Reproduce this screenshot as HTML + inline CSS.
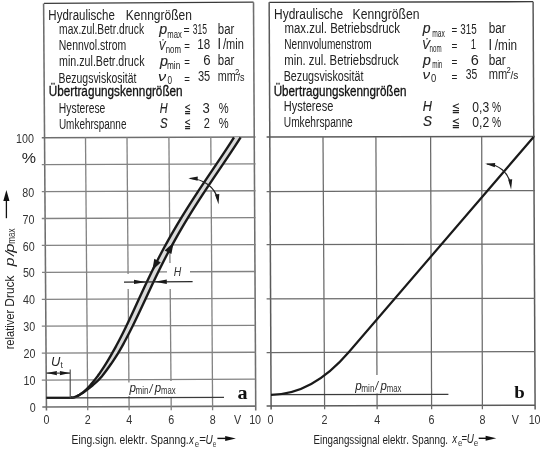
<!DOCTYPE html>
<html><head><meta charset="utf-8"><title>Kennlinie</title>
<style>
html,body{margin:0;padding:0;background:#fff;}
body{width:540px;height:449px;overflow:hidden;}
svg{display:block;}
text{font-kerning:none;}
</style></head><body>
<svg width="540" height="449" viewBox="0 0 540 449">
<rect width="540" height="449" fill="#fff"/>
<line x1="44.00" y1="3.40" x2="253.50" y2="2.20" stroke="#3a3a3a" stroke-width="1.3"/>
<line x1="43.60" y1="3.40" x2="46.45" y2="410.50" stroke="#6e6e6e" stroke-width="1.55"/>
<line x1="253.50" y1="2.20" x2="255.75" y2="410.50" stroke="#6e6e6e" stroke-width="1.55"/>
<line x1="42.30" y1="407.01" x2="255.50" y2="406.10" stroke="#6e6e6e" stroke-width="1.55"/>
<line x1="41.80" y1="380.08" x2="255.50" y2="379.18" stroke="#828282" stroke-width="1.3"/>
<line x1="41.80" y1="353.15" x2="255.50" y2="352.26" stroke="#828282" stroke-width="1.3"/>
<line x1="41.80" y1="326.22" x2="255.50" y2="325.34" stroke="#828282" stroke-width="1.3"/>
<line x1="41.80" y1="299.29" x2="255.50" y2="298.42" stroke="#828282" stroke-width="1.3"/>
<line x1="42.00" y1="272.36" x2="167.00" y2="271.86" stroke="#828282" stroke-width="1.3"/>
<line x1="190.00" y1="271.76" x2="255.50" y2="271.50" stroke="#828282" stroke-width="1.3"/>
<line x1="41.80" y1="245.43" x2="255.50" y2="244.58" stroke="#828282" stroke-width="1.3"/>
<line x1="41.80" y1="218.50" x2="255.50" y2="217.66" stroke="#828282" stroke-width="1.3"/>
<line x1="41.80" y1="191.57" x2="255.50" y2="190.74" stroke="#828282" stroke-width="1.3"/>
<line x1="41.80" y1="164.64" x2="255.50" y2="163.82" stroke="#828282" stroke-width="1.3"/>
<line x1="41.80" y1="137.71" x2="255.50" y2="136.90" stroke="#6e6e6e" stroke-width="1.55"/>
<line x1="85.50" y1="137.30" x2="87.73" y2="410.30" stroke="#828282" stroke-width="1.3"/>
<line x1="127.00" y1="137.30" x2="128.07" y2="274.00" stroke="#828282" stroke-width="1.3"/>
<line x1="128.18" y1="289.00" x2="128.91" y2="382.50" stroke="#828282" stroke-width="1.3"/>
<line x1="129.02" y1="396.00" x2="129.13" y2="410.30" stroke="#828282" stroke-width="1.3"/>
<line x1="168.90" y1="137.30" x2="169.97" y2="263.00" stroke="#828282" stroke-width="1.3"/>
<line x1="170.19" y1="289.00" x2="170.98" y2="381.00" stroke="#828282" stroke-width="1.3"/>
<line x1="171.12" y1="397.00" x2="171.23" y2="410.30" stroke="#828282" stroke-width="1.3"/>
<line x1="210.80" y1="137.30" x2="210.99" y2="165.50" stroke="#828282" stroke-width="1.3"/>
<line x1="211.16" y1="190.50" x2="212.62" y2="410.30" stroke="#828282" stroke-width="1.3"/>
<path d="M234.02,137.30 L233.39,138.30 L232.75,139.30 L232.11,140.30 L231.47,141.30 L230.83,142.30 L230.18,143.30 L229.53,144.30 L228.88,145.30 L228.23,146.30 L227.57,147.30 L226.92,148.30 L226.26,149.30 L225.60,150.30 L224.94,151.30 L224.27,152.30 L223.61,153.30 L222.94,154.30 L222.28,155.30 L221.61,156.30 L220.94,157.30 L220.27,158.30 L219.60,159.30 L218.93,160.30 L218.25,161.30 L217.58,162.30 L216.91,163.30 L216.23,164.30 L215.56,165.30 L214.88,166.30 L214.21,167.30 L213.53,168.30 L212.86,169.30 L212.18,170.30 L211.51,171.30 L210.83,172.30 L210.16,173.30 L209.48,174.30 L208.81,175.30 L208.14,176.30 L207.46,177.30 L206.79,178.30 L206.12,179.30 L205.45,180.30 L204.78,181.30 L204.11,182.30 L203.44,183.30 L202.77,184.30 L202.10,185.30 L201.44,186.30 L200.77,187.30 L200.11,188.30 L199.45,189.30 L198.79,190.30 L198.13,191.30 L197.47,192.30 L196.81,193.30 L196.16,194.30 L195.50,195.30 L194.85,196.30 L194.20,197.30 L193.55,198.30 L192.90,199.30 L192.26,200.30 L191.61,201.30 L190.97,202.30 L190.33,203.30 L189.69,204.30 L189.05,205.30 L188.42,206.30 L187.79,207.30 L187.15,208.30 L186.53,209.30 L185.90,210.30 L185.27,211.30 L184.65,212.30 L184.03,213.30 L183.41,214.30 L182.80,215.30 L182.18,216.30 L181.57,217.30 L180.96,218.30 L180.35,219.30 L179.75,220.30 L179.15,221.30 L178.55,222.30 L177.95,223.30 L177.35,224.30 L176.76,225.30 L176.17,226.30 L175.58,227.30 L175.00,228.30 L174.41,229.30 L173.83,230.30 L173.25,231.30 L172.68,232.30 L172.10,233.30 L171.53,234.30 L170.96,235.30 L170.39,236.30 L169.83,237.30 L169.27,238.30 L168.71,239.30 L168.15,240.30 L167.60,241.30 L167.05,242.30 L166.50,243.30 L165.95,244.30 L165.40,245.30 L164.86,246.30 L164.32,247.30 L163.78,248.30 L163.25,249.30 L162.71,250.30 L162.18,251.30 L161.65,252.30 L161.13,253.30 L160.60,254.30 L160.08,255.30 L159.56,256.30 L159.04,257.30 L158.53,258.30 L158.02,259.30 L157.50,260.30 L156.99,261.30 L156.49,262.30 L155.98,263.30 L155.48,264.30 L154.98,265.30 L154.48,266.30 L153.98,267.30 L153.49,268.30 L152.99,269.30 L152.50,270.30 L152.01,271.30 L151.52,272.30 L151.03,273.30 L150.55,274.30 L150.07,275.30 L149.58,276.30 L149.10,277.30 L148.62,278.30 L148.15,279.30 L147.67,280.30 L147.19,281.30 L146.72,282.30 L146.25,283.30 L145.77,284.30 L145.30,285.30 L144.83,286.30 L144.37,287.30 L143.90,288.30 L143.43,289.30 L142.96,290.30 L142.50,291.30 L142.03,292.30 L141.57,293.30 L141.11,294.30 L140.64,295.30 L140.18,296.30 L139.72,297.30 L139.25,298.30 L138.79,299.30 L138.33,300.30 L137.88,301.30 L137.42,302.30 L136.96,303.30 L136.51,304.30 L136.05,305.30 L135.59,306.30 L135.13,307.30 L134.68,308.30 L134.22,309.30 L133.76,310.30 L133.30,311.30 L132.84,312.30 L132.37,313.30 L131.91,314.30 L131.45,315.30 L130.98,316.30 L130.51,317.30 L130.05,318.30 L129.58,319.30 L129.11,320.30 L128.63,321.30 L128.16,322.30 L127.68,323.30 L127.20,324.30 L126.72,325.30 L126.24,326.30 L125.76,327.30 L125.27,328.30 L124.78,329.30 L124.29,330.30 L123.79,331.30 L123.30,332.30 L122.80,333.30 L122.29,334.30 L121.79,335.30 L121.28,336.30 L120.77,337.30 L120.25,338.30 L119.73,339.30 L119.21,340.30 L118.68,341.30 L118.15,342.30 L117.61,343.30 L117.07,344.30 L116.53,345.30 L115.98,346.30 L115.43,347.30 L114.87,348.30 L114.31,349.30 L113.74,350.30 L113.17,351.30 L112.59,352.30 L112.03,353.30 L111.46,354.30 L110.90,355.30 L110.32,356.30 L109.74,357.30 L109.16,358.30 L108.57,359.30 L107.97,360.30 L107.36,361.30 L106.75,362.30 L106.14,363.30 L105.51,364.30 L104.88,365.30 L104.24,366.30 L103.60,367.30 L102.94,368.30 L102.28,369.30 L101.62,370.30 L100.94,371.30 L100.26,372.30 L99.60,373.30 L98.92,374.30 L97.75,375.93 L97.02,376.90 L96.27,377.89 L95.50,378.90 L94.69,379.93 L93.86,380.97 L93.01,382.03 L92.14,383.08 L91.24,384.14 L90.33,385.19 L89.40,386.23 L88.45,387.25 L87.49,388.25 L86.51,389.23 L85.52,390.18 L84.51,391.10 L83.50,391.98 L82.48,392.81 L81.45,393.60 L80.41,394.34 L79.37,395.01 L78.32,395.63 L77.27,396.18 L76.22,396.65 L75.17,397.05 L74.13,397.37 L73.08,397.61 L72.04,397.75 L71.00,397.80 L71.00,397.80 L71.86,397.75 L72.80,397.59 L73.80,397.33 L74.85,396.97 L75.96,396.53 L77.11,396.01 L78.30,395.41 L79.53,394.75 L80.79,394.02 L82.07,393.23 L83.36,392.38 L84.67,391.50 L85.98,390.57 L87.29,389.60 L88.60,388.61 L89.89,387.60 L91.16,386.56 L92.41,385.52 L93.63,384.47 L94.82,383.43 L95.96,382.39 L97.06,381.36 L98.10,380.35 L99.08,379.36 L100.00,378.40 L100.85,377.48 L101.62,376.61 L102.31,375.78 L103.47,374.30 L104.25,373.30 L105.03,372.30 L105.78,371.30 L106.52,370.30 L107.25,369.30 L107.97,368.30 L108.69,367.30 L109.40,366.30 L110.10,365.30 L110.79,364.30 L111.48,363.30 L112.16,362.30 L112.83,361.30 L113.49,360.30 L114.15,359.30 L114.81,358.30 L115.46,357.30 L116.10,356.30 L116.73,355.30 L117.36,354.30 L117.99,353.30 L118.60,352.30 L119.19,351.30 L119.77,350.30 L120.35,349.30 L120.92,348.30 L121.49,347.30 L122.05,346.30 L122.61,345.30 L123.17,344.30 L123.72,343.30 L124.27,342.30 L124.81,341.30 L125.35,340.30 L125.88,339.30 L126.41,338.30 L126.94,337.30 L127.46,336.30 L127.99,335.30 L128.50,334.30 L129.02,333.30 L129.53,332.30 L130.04,331.30 L130.54,330.30 L131.05,329.30 L131.55,328.30 L132.05,327.30 L132.54,326.30 L133.04,325.30 L133.53,324.30 L134.02,323.30 L134.51,322.30 L134.99,321.30 L135.48,320.30 L135.96,319.30 L136.44,318.30 L136.92,317.30 L137.40,316.30 L137.87,315.30 L138.35,314.30 L138.82,313.30 L139.30,312.30 L139.77,311.30 L140.24,310.30 L140.71,309.30 L141.18,308.30 L141.65,307.30 L142.12,306.30 L142.59,305.30 L143.06,304.30 L143.52,303.30 L143.99,302.30 L144.46,301.30 L144.93,300.30 L145.39,299.30 L145.85,298.30 L146.32,297.30 L146.78,296.30 L147.24,295.30 L147.71,294.30 L148.17,293.30 L148.63,292.30 L149.10,291.30 L149.56,290.30 L150.03,289.30 L150.50,288.30 L150.97,287.30 L151.43,286.30 L151.90,285.30 L152.37,284.30 L152.85,283.30 L153.32,282.30 L153.79,281.30 L154.27,280.30 L154.75,279.30 L155.22,278.30 L155.70,277.30 L156.18,276.30 L156.67,275.30 L157.15,274.30 L157.63,273.30 L158.12,272.30 L158.61,271.30 L159.10,270.30 L159.59,269.30 L160.09,268.30 L160.58,267.30 L161.08,266.30 L161.58,265.30 L162.08,264.30 L162.58,263.30 L163.09,262.30 L163.59,261.30 L164.10,260.30 L164.62,259.30 L165.13,258.30 L165.64,257.30 L166.16,256.30 L166.68,255.30 L167.20,254.30 L167.73,253.30 L168.25,252.30 L168.78,251.30 L169.31,250.30 L169.85,249.30 L170.38,248.30 L170.92,247.30 L171.46,246.30 L172.00,245.30 L172.55,244.30 L173.10,243.30 L173.65,242.30 L174.20,241.30 L174.75,240.30 L175.31,239.30 L175.87,238.30 L176.43,237.30 L176.99,236.30 L177.56,235.30 L178.13,234.30 L178.70,233.30 L179.28,232.30 L179.85,231.30 L180.43,230.30 L181.01,229.30 L181.60,228.30 L182.18,227.30 L182.77,226.30 L183.36,225.30 L183.95,224.30 L184.55,223.30 L185.15,222.30 L185.75,221.30 L186.35,220.30 L186.95,219.30 L187.56,218.30 L188.17,217.30 L188.78,216.30 L189.40,215.30 L190.01,214.30 L190.63,213.30 L191.25,212.30 L191.87,211.30 L192.50,210.30 L193.13,209.30 L193.75,208.30 L194.39,207.30 L195.02,206.30 L195.65,205.30 L196.29,204.30 L196.93,203.30 L197.57,202.30 L198.21,201.30 L198.86,200.30 L199.50,199.30 L200.15,198.30 L200.80,197.30 L201.45,196.30 L202.10,195.30 L202.76,194.30 L203.41,193.30 L204.07,192.30 L204.73,191.30 L205.39,190.30 L206.05,189.30 L206.71,188.30 L207.37,187.30 L208.04,186.30 L208.70,185.30 L209.37,184.30 L210.04,183.30 L210.71,182.30 L211.38,181.30 L212.05,180.30 L212.72,179.30 L213.39,178.30 L214.06,177.30 L214.74,176.30 L215.41,175.30 L216.08,174.30 L216.76,173.30 L217.43,172.30 L218.11,171.30 L218.78,170.30 L219.46,169.30 L220.13,168.30 L220.81,167.30 L221.48,166.30 L222.16,165.30 L222.83,164.30 L223.51,163.30 L224.18,162.30 L224.85,161.30 L225.53,160.30 L226.20,159.30 L226.87,158.30 L227.54,157.30 L228.21,156.30 L228.88,155.30 L229.54,154.30 L230.21,153.30 L230.87,152.30 L231.54,151.30 L232.20,150.30 L232.86,149.30 L233.52,148.30 L234.17,147.30 L234.83,146.30 L235.48,145.30 L236.13,144.30 L236.78,143.30 L237.43,142.30 L238.07,141.30 L238.71,140.30 L239.35,139.30 L239.99,138.30 L240.62,137.30 Z" fill="#dadada" stroke="none" stroke-width="1.0"/>
<path d="M234.02,137.30 L233.39,138.30 L232.75,139.30 L232.11,140.30 L231.47,141.30 L230.83,142.30 L230.18,143.30 L229.53,144.30 L228.88,145.30 L228.23,146.30 L227.57,147.30 L226.92,148.30 L226.26,149.30 L225.60,150.30 L224.94,151.30 L224.27,152.30 L223.61,153.30 L222.94,154.30 L222.28,155.30 L221.61,156.30 L220.94,157.30 L220.27,158.30 L219.60,159.30 L218.93,160.30 L218.25,161.30 L217.58,162.30 L216.91,163.30 L216.23,164.30 L215.56,165.30 L214.88,166.30 L214.21,167.30 L213.53,168.30 L212.86,169.30 L212.18,170.30 L211.51,171.30 L210.83,172.30 L210.16,173.30 L209.48,174.30 L208.81,175.30 L208.14,176.30 L207.46,177.30 L206.79,178.30 L206.12,179.30 L205.45,180.30 L204.78,181.30 L204.11,182.30 L203.44,183.30 L202.77,184.30 L202.10,185.30 L201.44,186.30 L200.77,187.30 L200.11,188.30 L199.45,189.30 L198.79,190.30 L198.13,191.30 L197.47,192.30 L196.81,193.30 L196.16,194.30 L195.50,195.30 L194.85,196.30 L194.20,197.30 L193.55,198.30 L192.90,199.30 L192.26,200.30 L191.61,201.30 L190.97,202.30 L190.33,203.30 L189.69,204.30 L189.05,205.30 L188.42,206.30 L187.79,207.30 L187.15,208.30 L186.53,209.30 L185.90,210.30 L185.27,211.30 L184.65,212.30 L184.03,213.30 L183.41,214.30 L182.80,215.30 L182.18,216.30 L181.57,217.30 L180.96,218.30 L180.35,219.30 L179.75,220.30 L179.15,221.30 L178.55,222.30 L177.95,223.30 L177.35,224.30 L176.76,225.30 L176.17,226.30 L175.58,227.30 L175.00,228.30 L174.41,229.30 L173.83,230.30 L173.25,231.30 L172.68,232.30 L172.10,233.30 L171.53,234.30 L170.96,235.30 L170.39,236.30 L169.83,237.30 L169.27,238.30 L168.71,239.30 L168.15,240.30 L167.60,241.30 L167.05,242.30 L166.50,243.30 L165.95,244.30 L165.40,245.30 L164.86,246.30 L164.32,247.30 L163.78,248.30 L163.25,249.30 L162.71,250.30 L162.18,251.30 L161.65,252.30 L161.13,253.30 L160.60,254.30 L160.08,255.30 L159.56,256.30 L159.04,257.30 L158.53,258.30 L158.02,259.30 L157.50,260.30 L156.99,261.30 L156.49,262.30 L155.98,263.30 L155.48,264.30 L154.98,265.30 L154.48,266.30 L153.98,267.30 L153.49,268.30 L152.99,269.30 L152.50,270.30 L152.01,271.30 L151.52,272.30 L151.03,273.30 L150.55,274.30 L150.07,275.30 L149.58,276.30 L149.10,277.30 L148.62,278.30 L148.15,279.30 L147.67,280.30 L147.19,281.30 L146.72,282.30 L146.25,283.30 L145.77,284.30 L145.30,285.30 L144.83,286.30 L144.37,287.30 L143.90,288.30 L143.43,289.30 L142.96,290.30 L142.50,291.30 L142.03,292.30 L141.57,293.30 L141.11,294.30 L140.64,295.30 L140.18,296.30 L139.72,297.30 L139.25,298.30 L138.79,299.30 L138.33,300.30 L137.88,301.30 L137.42,302.30 L136.96,303.30 L136.51,304.30 L136.05,305.30 L135.59,306.30 L135.13,307.30 L134.68,308.30 L134.22,309.30 L133.76,310.30 L133.30,311.30 L132.84,312.30 L132.37,313.30 L131.91,314.30 L131.45,315.30 L130.98,316.30 L130.51,317.30 L130.05,318.30 L129.58,319.30 L129.11,320.30 L128.63,321.30 L128.16,322.30 L127.68,323.30 L127.20,324.30 L126.72,325.30 L126.24,326.30 L125.76,327.30 L125.27,328.30 L124.78,329.30 L124.29,330.30 L123.79,331.30 L123.30,332.30 L122.80,333.30 L122.29,334.30 L121.79,335.30 L121.28,336.30 L120.77,337.30 L120.25,338.30 L119.73,339.30 L119.21,340.30 L118.68,341.30 L118.15,342.30 L117.61,343.30 L117.07,344.30 L116.53,345.30 L115.98,346.30 L115.43,347.30 L114.87,348.30 L114.31,349.30 L113.74,350.30 L113.17,351.30 L112.59,352.30 L112.03,353.30 L111.46,354.30 L110.90,355.30 L110.32,356.30 L109.74,357.30 L109.16,358.30 L108.57,359.30 L107.97,360.30 L107.36,361.30 L106.75,362.30 L106.14,363.30 L105.51,364.30 L104.88,365.30 L104.24,366.30 L103.60,367.30 L102.94,368.30 L102.28,369.30 L101.62,370.30 L100.94,371.30 L100.26,372.30 L99.60,373.30 L98.92,374.30 L97.75,375.93 L97.02,376.90 L96.27,377.89 L95.50,378.90 L94.69,379.93 L93.86,380.97 L93.01,382.03 L92.14,383.08 L91.24,384.14 L90.33,385.19 L89.40,386.23 L88.45,387.25 L87.49,388.25 L86.51,389.23 L85.52,390.18 L84.51,391.10 L83.50,391.98 L82.48,392.81 L81.45,393.60 L80.41,394.34 L79.37,395.01 L78.32,395.63 L77.27,396.18 L76.22,396.65 L75.17,397.05 L74.13,397.37 L73.08,397.61 L72.04,397.75 L71.00,397.80" fill="none" stroke="#1a1a1a" stroke-width="2.4" stroke-linejoin="round"/>
<path d="M240.62,137.30 L239.99,138.30 L239.35,139.30 L238.71,140.30 L238.07,141.30 L237.43,142.30 L236.78,143.30 L236.13,144.30 L235.48,145.30 L234.83,146.30 L234.17,147.30 L233.52,148.30 L232.86,149.30 L232.20,150.30 L231.54,151.30 L230.87,152.30 L230.21,153.30 L229.54,154.30 L228.88,155.30 L228.21,156.30 L227.54,157.30 L226.87,158.30 L226.20,159.30 L225.53,160.30 L224.85,161.30 L224.18,162.30 L223.51,163.30 L222.83,164.30 L222.16,165.30 L221.48,166.30 L220.81,167.30 L220.13,168.30 L219.46,169.30 L218.78,170.30 L218.11,171.30 L217.43,172.30 L216.76,173.30 L216.08,174.30 L215.41,175.30 L214.74,176.30 L214.06,177.30 L213.39,178.30 L212.72,179.30 L212.05,180.30 L211.38,181.30 L210.71,182.30 L210.04,183.30 L209.37,184.30 L208.70,185.30 L208.04,186.30 L207.37,187.30 L206.71,188.30 L206.05,189.30 L205.39,190.30 L204.73,191.30 L204.07,192.30 L203.41,193.30 L202.76,194.30 L202.10,195.30 L201.45,196.30 L200.80,197.30 L200.15,198.30 L199.50,199.30 L198.86,200.30 L198.21,201.30 L197.57,202.30 L196.93,203.30 L196.29,204.30 L195.65,205.30 L195.02,206.30 L194.39,207.30 L193.75,208.30 L193.13,209.30 L192.50,210.30 L191.87,211.30 L191.25,212.30 L190.63,213.30 L190.01,214.30 L189.40,215.30 L188.78,216.30 L188.17,217.30 L187.56,218.30 L186.95,219.30 L186.35,220.30 L185.75,221.30 L185.15,222.30 L184.55,223.30 L183.95,224.30 L183.36,225.30 L182.77,226.30 L182.18,227.30 L181.60,228.30 L181.01,229.30 L180.43,230.30 L179.85,231.30 L179.28,232.30 L178.70,233.30 L178.13,234.30 L177.56,235.30 L176.99,236.30 L176.43,237.30 L175.87,238.30 L175.31,239.30 L174.75,240.30 L174.20,241.30 L173.65,242.30 L173.10,243.30 L172.55,244.30 L172.00,245.30 L171.46,246.30 L170.92,247.30 L170.38,248.30 L169.85,249.30 L169.31,250.30 L168.78,251.30 L168.25,252.30 L167.73,253.30 L167.20,254.30 L166.68,255.30 L166.16,256.30 L165.64,257.30 L165.13,258.30 L164.62,259.30 L164.10,260.30 L163.59,261.30 L163.09,262.30 L162.58,263.30 L162.08,264.30 L161.58,265.30 L161.08,266.30 L160.58,267.30 L160.09,268.30 L159.59,269.30 L159.10,270.30 L158.61,271.30 L158.12,272.30 L157.63,273.30 L157.15,274.30 L156.67,275.30 L156.18,276.30 L155.70,277.30 L155.22,278.30 L154.75,279.30 L154.27,280.30 L153.79,281.30 L153.32,282.30 L152.85,283.30 L152.37,284.30 L151.90,285.30 L151.43,286.30 L150.97,287.30 L150.50,288.30 L150.03,289.30 L149.56,290.30 L149.10,291.30 L148.63,292.30 L148.17,293.30 L147.71,294.30 L147.24,295.30 L146.78,296.30 L146.32,297.30 L145.85,298.30 L145.39,299.30 L144.93,300.30 L144.46,301.30 L143.99,302.30 L143.52,303.30 L143.06,304.30 L142.59,305.30 L142.12,306.30 L141.65,307.30 L141.18,308.30 L140.71,309.30 L140.24,310.30 L139.77,311.30 L139.30,312.30 L138.82,313.30 L138.35,314.30 L137.87,315.30 L137.40,316.30 L136.92,317.30 L136.44,318.30 L135.96,319.30 L135.48,320.30 L134.99,321.30 L134.51,322.30 L134.02,323.30 L133.53,324.30 L133.04,325.30 L132.54,326.30 L132.05,327.30 L131.55,328.30 L131.05,329.30 L130.54,330.30 L130.04,331.30 L129.53,332.30 L129.02,333.30 L128.50,334.30 L127.99,335.30 L127.46,336.30 L126.94,337.30 L126.41,338.30 L125.88,339.30 L125.35,340.30 L124.81,341.30 L124.27,342.30 L123.72,343.30 L123.17,344.30 L122.61,345.30 L122.05,346.30 L121.49,347.30 L120.92,348.30 L120.35,349.30 L119.77,350.30 L119.19,351.30 L118.60,352.30 L117.99,353.30 L117.36,354.30 L116.73,355.30 L116.10,356.30 L115.46,357.30 L114.81,358.30 L114.15,359.30 L113.49,360.30 L112.83,361.30 L112.16,362.30 L111.48,363.30 L110.79,364.30 L110.10,365.30 L109.40,366.30 L108.69,367.30 L107.97,368.30 L107.25,369.30 L106.52,370.30 L105.78,371.30 L105.03,372.30 L104.25,373.30 L103.47,374.30 L102.31,375.78 L101.62,376.61 L100.85,377.48 L100.00,378.40 L99.08,379.36 L98.10,380.35 L97.06,381.36 L95.96,382.39 L94.82,383.43 L93.63,384.47 L92.41,385.52 L91.16,386.56 L89.89,387.60 L88.60,388.61 L87.29,389.60 L85.98,390.57 L84.67,391.50 L83.36,392.38 L82.07,393.23 L80.79,394.02 L79.53,394.75 L78.30,395.41 L77.11,396.01 L75.96,396.53 L74.85,396.97 L73.80,397.33 L72.80,397.59 L71.86,397.75 L71.00,397.80" fill="none" stroke="#1a1a1a" stroke-width="2.4" stroke-linejoin="round"/>
<line x1="46.30" y1="397.80" x2="72.00" y2="397.80" stroke="#1a1a1a" stroke-width="2.3"/>
<line x1="70.00" y1="397.80" x2="224.00" y2="397.40" stroke="#3a3a3a" stroke-width="1.2"/>
<line x1="70.20" y1="369.50" x2="70.20" y2="397.80" stroke="#444" stroke-width="1.1"/>
<line x1="46.50" y1="373.10" x2="70.00" y2="373.10" stroke="#222" stroke-width="1.1"/>
<path d="M46.5,373.1 L57.0,371.0 Q56.2,373.1 57.0,375.2 Z" fill="#1a1a1a" stroke="none" stroke-width="1.0"/>
<path d="M70,373.1 L59.8,371.0 Q60.6,373.1 59.8,375.2 Z" fill="#1a1a1a" stroke="none" stroke-width="1.0"/>
<line x1="124.00" y1="282.00" x2="192.60" y2="281.60" stroke="#2a2a2a" stroke-width="1.25"/>
<path d="M147.2,281.9 Q140,281.2 134,279.7 L134,284.1 Q140,282.6 147.2,281.9 Z" fill="#1a1a1a" stroke="none" stroke-width="1.0"/>
<path d="M153.8,281.8 Q160,281.1 166.8,279.6 L166.8,284.0 Q160,282.5 153.8,281.8 Z" fill="#1a1a1a" stroke="none" stroke-width="1.0"/>
<path d="M173.7,242.6 L164.6,250.6 L171.4,254.0 Z" fill="#1a1a1a" stroke="none" stroke-width="1.0"/>
<path d="M152.3,270.2 L154.3,258.8 L160.8,262.6 Z" fill="#1a1a1a" stroke="none" stroke-width="1.0"/>
<path d="M190,178.5 A 29 25.4 0 0 1 217.6,199" fill="none" stroke="#222" stroke-width="1.2"/>
<path d="M188.3,178.2 L197.8,176.6 L197.6,180.8 Z" fill="#1a1a1a" stroke="none" stroke-width="1.0"/>
<path d="M218.5,204.3 L214.9,194.6 L219.3,194.0 Z" fill="#1a1a1a" stroke="none" stroke-width="1.0"/>
<line x1="269.20" y1="2.30" x2="533.10" y2="1.70" stroke="#3a3a3a" stroke-width="1.3"/>
<line x1="269.15" y1="2.30" x2="271.12" y2="409.50" stroke="#5a5a5a" stroke-width="1.5"/>
<line x1="533.10" y1="1.70" x2="535.12" y2="409.50" stroke="#5a5a5a" stroke-width="1.5"/>
<line x1="266.60" y1="405.91" x2="535.00" y2="405.30" stroke="#5a5a5a" stroke-width="1.5"/>
<line x1="266.60" y1="352.51" x2="535.00" y2="351.60" stroke="#6a6a6a" stroke-width="1.25"/>
<line x1="266.60" y1="298.91" x2="535.00" y2="298.40" stroke="#6a6a6a" stroke-width="1.25"/>
<line x1="266.60" y1="244.71" x2="535.00" y2="244.10" stroke="#6a6a6a" stroke-width="1.25"/>
<line x1="266.60" y1="191.51" x2="535.00" y2="190.60" stroke="#6a6a6a" stroke-width="1.25"/>
<line x1="266.60" y1="136.91" x2="535.00" y2="136.40" stroke="#5a5a5a" stroke-width="1.5"/>
<line x1="323.00" y1="137.00" x2="324.62" y2="409.30" stroke="#6a6a6a" stroke-width="1.25"/>
<line x1="375.90" y1="137.00" x2="376.96" y2="375.00" stroke="#6a6a6a" stroke-width="1.25"/>
<line x1="377.05" y1="393.50" x2="377.12" y2="409.30" stroke="#6a6a6a" stroke-width="1.25"/>
<line x1="430.60" y1="137.00" x2="431.61" y2="409.30" stroke="#6a6a6a" stroke-width="1.25"/>
<line x1="481.70" y1="137.00" x2="482.41" y2="409.30" stroke="#6a6a6a" stroke-width="1.25"/>
<line x1="271.00" y1="394.60" x2="448.40" y2="394.30" stroke="#3a3a3a" stroke-width="1.2"/>
<path d="M271,394.8 C304.70,394.8 330.65,373.32 348.7,352.3 L533.6,137.0" fill="none" stroke="#1a1a1a" stroke-width="2.2"/>
<path d="M487,164 A 24.5 25 0 0 1 510.6,184" fill="none" stroke="#222" stroke-width="1.2"/>
<path d="M485.2,163.8 L495.2,163.0 L494.8,167.2 Z" fill="#1a1a1a" stroke="none" stroke-width="1.0"/>
<path d="M511.1,189.4 L508.1,179.6 L512.2,179.2 Z" fill="#1a1a1a" stroke="none" stroke-width="1.0"/>
<text x="48.36" y="19.70" font-family="Liberation Sans" font-size="13.8" textLength="66.45" lengthAdjust="spacingAndGlyphs" fill="#222">Hydraulische</text>
<text x="125.82" y="19.70" font-family="Liberation Sans" font-size="13.8" textLength="66.06" lengthAdjust="spacingAndGlyphs" fill="#222">Kenngrößen</text>
<text x="59.12" y="34.30" font-family="Liberation Sans" font-size="13.8" textLength="84.97" lengthAdjust="spacingAndGlyphs" fill="#222">max.zul.Betr.druck</text>
<text x="58.84" y="50.30" font-family="Liberation Sans" font-size="13.8" textLength="67.35" lengthAdjust="spacingAndGlyphs" fill="#222">Nennvol.strom</text>
<text x="59.09" y="66.30" font-family="Liberation Sans" font-size="13.8" textLength="85.39" lengthAdjust="spacingAndGlyphs" fill="#222">min.zul.Betr.druck</text>
<text x="58.54" y="82.50" font-family="Liberation Sans" font-size="13.8" textLength="77.83" lengthAdjust="spacingAndGlyphs" fill="#222">Bezugsviskosität</text>
<text x="48.69" y="96.30" font-family="Liberation Sans" font-size="13.8" textLength="133.97" lengthAdjust="spacingAndGlyphs" fill="#111" stroke="#111" stroke-width="0.3">Übertragungskenngrößen</text>
<text x="58.85" y="113.30" font-family="Liberation Sans" font-size="13.8" textLength="46.51" lengthAdjust="spacingAndGlyphs" fill="#222">Hysterese</text>
<text x="58.93" y="128.70" font-family="Liberation Sans" font-size="13.8" textLength="67.51" lengthAdjust="spacingAndGlyphs" fill="#222">Umkehrspanne</text>
<text x="159.25" y="34.00" font-family="Liberation Sans" font-size="14.2" font-style="italic" textLength="7.90" lengthAdjust="spacingAndGlyphs" fill="#222" stroke="#222" stroke-width="0.15">p</text>
<text x="167.29" y="37.60" font-family="Liberation Sans" font-size="10.2" textLength="14.49" lengthAdjust="spacingAndGlyphs" fill="#222">max</text>
<text x="183.59" y="34.10" font-family="Liberation Sans" font-size="12.7" textLength="6.13" lengthAdjust="spacingAndGlyphs" fill="#222">=</text>
<text x="192.67" y="33.60" font-family="Liberation Sans" font-size="14.7" textLength="14.29" lengthAdjust="spacingAndGlyphs" fill="#222">315</text>
<text x="217.86" y="33.60" font-family="Liberation Sans" font-size="13.8" textLength="16.53" lengthAdjust="spacingAndGlyphs" fill="#222">bar</text>
<text x="158.73" y="49.60" font-family="Liberation Sans" font-size="13.6" font-style="italic" textLength="6.69" lengthAdjust="spacingAndGlyphs" fill="#222" stroke="#222" stroke-width="0.15">V̇</text>
<text x="165.68" y="52.60" font-family="Liberation Sans" font-size="10.2" textLength="15.24" lengthAdjust="spacingAndGlyphs" fill="#222">nom</text>
<text x="184.33" y="50.30" font-family="Liberation Sans" font-size="12.7" textLength="5.65" lengthAdjust="spacingAndGlyphs" fill="#222">=</text>
<text x="197.22" y="48.80" font-family="Liberation Sans" font-size="14.7" textLength="12.89" lengthAdjust="spacingAndGlyphs" fill="#222">18</text>
<text x="217.87" y="49.30" font-family="Liberation Sans" font-size="13.8" textLength="3.07" lengthAdjust="spacingAndGlyphs" fill="#222">l</text>
<text x="223.10" y="49.30" font-family="Liberation Sans" font-size="13.8" textLength="3.30" lengthAdjust="spacingAndGlyphs" fill="#222">/</text>
<text x="226.07" y="49.30" font-family="Liberation Sans" font-size="13.8" textLength="17.75" lengthAdjust="spacingAndGlyphs" fill="#222">min</text>
<text x="159.95" y="65.60" font-family="Liberation Sans" font-size="14.2" font-style="italic" textLength="7.90" lengthAdjust="spacingAndGlyphs" fill="#222" stroke="#222" stroke-width="0.15">p</text>
<text x="166.95" y="68.60" font-family="Liberation Sans" font-size="10.2" textLength="13.28" lengthAdjust="spacingAndGlyphs" fill="#222">min</text>
<text x="184.33" y="66.00" font-family="Liberation Sans" font-size="12.7" textLength="5.65" lengthAdjust="spacingAndGlyphs" fill="#222">=</text>
<text x="203.33" y="64.70" font-family="Liberation Sans" font-size="14.7" textLength="7.35" lengthAdjust="spacingAndGlyphs" fill="#222">6</text>
<text x="217.86" y="64.70" font-family="Liberation Sans" font-size="13.8" textLength="16.53" lengthAdjust="spacingAndGlyphs" fill="#222">bar</text>
<text x="158.11" y="81.30" font-family="Liberation Sans" font-size="13.7" font-style="italic" textLength="8.20" lengthAdjust="spacingAndGlyphs" fill="#222">ν</text>
<text x="167.58" y="84.00" font-family="Liberation Sans" font-size="10.2" textLength="4.54" lengthAdjust="spacingAndGlyphs" fill="#222">0</text>
<text x="184.33" y="82.90" font-family="Liberation Sans" font-size="12.7" textLength="5.65" lengthAdjust="spacingAndGlyphs" fill="#222">=</text>
<text x="197.98" y="81.30" font-family="Liberation Sans" font-size="14.7" textLength="12.28" lengthAdjust="spacingAndGlyphs" fill="#222">35</text>
<text x="217.68" y="81.30" font-family="Liberation Sans" font-size="13.8" textLength="18.03" lengthAdjust="spacingAndGlyphs" fill="#222">mm</text>
<text x="235.00" y="74.50" font-family="Liberation Sans" font-size="9.0" textLength="4.39" lengthAdjust="spacingAndGlyphs" fill="#222">2</text>
<text x="237.50" y="81.30" font-family="Liberation Sans" font-size="10.5" textLength="7.03" lengthAdjust="spacingAndGlyphs" fill="#222">/s</text>
<text x="159.67" y="112.50" font-family="Liberation Sans" font-size="14.4" font-style="italic" textLength="7.82" lengthAdjust="spacingAndGlyphs" fill="#222" stroke="#222" stroke-width="0.15">H</text>
<text x="184.15" y="113.00" font-family="DejaVu Sans" font-size="13.8" textLength="6.69" lengthAdjust="spacingAndGlyphs" fill="#222">≦</text>
<text x="202.50" y="112.50" font-family="Liberation Sans" font-size="14.7" textLength="7.27" lengthAdjust="spacingAndGlyphs" fill="#222">3</text>
<text x="218.80" y="112.50" font-family="Liberation Sans" font-size="13.8" textLength="9.89" lengthAdjust="spacingAndGlyphs" fill="#222">%</text>
<text x="159.98" y="127.50" font-family="Liberation Sans" font-size="14.4" font-style="italic" textLength="7.65" lengthAdjust="spacingAndGlyphs" fill="#222" stroke="#222" stroke-width="0.15">S</text>
<text x="184.15" y="128.00" font-family="DejaVu Sans" font-size="13.8" textLength="6.69" lengthAdjust="spacingAndGlyphs" fill="#222">≦</text>
<text x="203.65" y="127.50" font-family="Liberation Sans" font-size="14.7" textLength="6.10" lengthAdjust="spacingAndGlyphs" fill="#222">2</text>
<text x="218.80" y="127.50" font-family="Liberation Sans" font-size="13.8" textLength="9.89" lengthAdjust="spacingAndGlyphs" fill="#222">%</text>
<text x="274.12" y="18.80" font-family="Liberation Sans" font-size="13.8" textLength="69.01" lengthAdjust="spacingAndGlyphs" fill="#222">Hydraulische</text>
<text x="352.60" y="18.80" font-family="Liberation Sans" font-size="13.8" textLength="66.78" lengthAdjust="spacingAndGlyphs" fill="#222">Kenngrößen</text>
<text x="284.44" y="33.30" font-family="Liberation Sans" font-size="13.8" textLength="115.54" lengthAdjust="spacingAndGlyphs" fill="#222">max.zul. Betriebsdruck</text>
<text x="284.27" y="49.20" font-family="Liberation Sans" font-size="13.8" textLength="87.49" lengthAdjust="spacingAndGlyphs" fill="#222">Nennvolumenstrom</text>
<text x="284.35" y="65.10" font-family="Liberation Sans" font-size="13.8" textLength="114.43" lengthAdjust="spacingAndGlyphs" fill="#222">min. zul. Betriebsdruck</text>
<text x="283.72" y="80.50" font-family="Liberation Sans" font-size="13.8" textLength="79.66" lengthAdjust="spacingAndGlyphs" fill="#222">Bezugsviskosität</text>
<text x="273.70" y="95.70" font-family="Liberation Sans" font-size="13.8" textLength="132.76" lengthAdjust="spacingAndGlyphs" fill="#111" stroke="#111" stroke-width="0.3">Übertragungskenngrößen</text>
<text x="283.70" y="111.30" font-family="Liberation Sans" font-size="13.8" textLength="49.59" lengthAdjust="spacingAndGlyphs" fill="#222">Hysterese</text>
<text x="283.82" y="126.60" font-family="Liberation Sans" font-size="13.8" textLength="68.94" lengthAdjust="spacingAndGlyphs" fill="#222">Umkehrspanne</text>
<text x="422.65" y="33.40" font-family="Liberation Sans" font-size="14.2" font-style="italic" textLength="7.80" lengthAdjust="spacingAndGlyphs" fill="#222" stroke="#222" stroke-width="0.15">p</text>
<text x="432.16" y="36.50" font-family="Liberation Sans" font-size="10.2" textLength="12.62" lengthAdjust="spacingAndGlyphs" fill="#222">max</text>
<text x="451.62" y="34.10" font-family="Liberation Sans" font-size="12.7" textLength="5.77" lengthAdjust="spacingAndGlyphs" fill="#222">=</text>
<text x="460.33" y="33.70" font-family="Liberation Sans" font-size="14.7" textLength="16.39" lengthAdjust="spacingAndGlyphs" fill="#222">315</text>
<text x="488.74" y="33.20" font-family="Liberation Sans" font-size="13.8" textLength="17.06" lengthAdjust="spacingAndGlyphs" fill="#222">bar</text>
<text x="421.98" y="49.20" font-family="Liberation Sans" font-size="13.6" font-style="italic" textLength="7.90" lengthAdjust="spacingAndGlyphs" fill="#222" stroke="#222" stroke-width="0.15">V̇</text>
<text x="429.59" y="52.30" font-family="Liberation Sans" font-size="10.2" textLength="12.02" lengthAdjust="spacingAndGlyphs" fill="#222">nom</text>
<text x="451.61" y="50.00" font-family="Liberation Sans" font-size="12.7" textLength="5.89" lengthAdjust="spacingAndGlyphs" fill="#222">=</text>
<text x="470.78" y="48.80" font-family="Liberation Sans" font-size="14.7" textLength="5.29" lengthAdjust="spacingAndGlyphs" fill="#222">1</text>
<text x="488.67" y="49.50" font-family="Liberation Sans" font-size="13.8" textLength="3.07" lengthAdjust="spacingAndGlyphs" fill="#222">l</text>
<text x="494.80" y="49.50" font-family="Liberation Sans" font-size="13.8" textLength="3.30" lengthAdjust="spacingAndGlyphs" fill="#222">/</text>
<text x="498.12" y="49.50" font-family="Liberation Sans" font-size="13.8" textLength="18.94" lengthAdjust="spacingAndGlyphs" fill="#222">min</text>
<text x="422.95" y="64.90" font-family="Liberation Sans" font-size="14.2" font-style="italic" textLength="7.80" lengthAdjust="spacingAndGlyphs" fill="#222" stroke="#222" stroke-width="0.15">p</text>
<text x="432.18" y="67.80" font-family="Liberation Sans" font-size="10.2" textLength="10.23" lengthAdjust="spacingAndGlyphs" fill="#222">min</text>
<text x="451.61" y="66.00" font-family="Liberation Sans" font-size="12.7" textLength="5.89" lengthAdjust="spacingAndGlyphs" fill="#222">=</text>
<text x="470.76" y="64.50" font-family="Liberation Sans" font-size="14.7" textLength="8.08" lengthAdjust="spacingAndGlyphs" fill="#222">6</text>
<text x="488.74" y="64.50" font-family="Liberation Sans" font-size="13.8" textLength="17.06" lengthAdjust="spacingAndGlyphs" fill="#222">bar</text>
<text x="422.46" y="79.30" font-family="Liberation Sans" font-size="13.7" font-style="italic" textLength="7.64" lengthAdjust="spacingAndGlyphs" fill="#222">ν</text>
<text x="430.93" y="82.30" font-family="Liberation Sans" font-size="10.2" textLength="5.24" lengthAdjust="spacingAndGlyphs" fill="#222">0</text>
<text x="451.61" y="80.70" font-family="Liberation Sans" font-size="12.7" textLength="5.89" lengthAdjust="spacingAndGlyphs" fill="#222">=</text>
<text x="465.81" y="79.30" font-family="Liberation Sans" font-size="14.7" textLength="11.53" lengthAdjust="spacingAndGlyphs" fill="#222">35</text>
<text x="488.76" y="79.30" font-family="Liberation Sans" font-size="13.8" textLength="18.47" lengthAdjust="spacingAndGlyphs" fill="#222">mm</text>
<text x="506.61" y="72.50" font-family="Liberation Sans" font-size="9.0" textLength="4.27" lengthAdjust="spacingAndGlyphs" fill="#222">2</text>
<text x="510.50" y="79.30" font-family="Liberation Sans" font-size="10.5" textLength="7.87" lengthAdjust="spacingAndGlyphs" fill="#222">/s</text>
<text x="422.81" y="111.30" font-family="Liberation Sans" font-size="14.4" font-style="italic" textLength="9.18" lengthAdjust="spacingAndGlyphs" fill="#222" stroke="#222" stroke-width="0.15">H</text>
<text x="451.65" y="111.80" font-family="DejaVu Sans" font-size="13.8" textLength="8.30" lengthAdjust="spacingAndGlyphs" fill="#222">≦</text>
<text x="472.33" y="111.50" font-family="Liberation Sans" font-size="14.7" textLength="16.80" lengthAdjust="spacingAndGlyphs" fill="#222">0,3</text>
<text x="492.03" y="111.50" font-family="Liberation Sans" font-size="13.8" textLength="9.13" lengthAdjust="spacingAndGlyphs" fill="#222">%</text>
<text x="423.12" y="126.40" font-family="Liberation Sans" font-size="14.4" font-style="italic" textLength="9.03" lengthAdjust="spacingAndGlyphs" fill="#222" stroke="#222" stroke-width="0.15">S</text>
<text x="451.65" y="126.90" font-family="DejaVu Sans" font-size="13.8" textLength="8.30" lengthAdjust="spacingAndGlyphs" fill="#222">≦</text>
<text x="472.33" y="126.60" font-family="Liberation Sans" font-size="14.7" textLength="16.89" lengthAdjust="spacingAndGlyphs" fill="#222">0,2</text>
<text x="492.03" y="126.60" font-family="Liberation Sans" font-size="13.8" textLength="9.13" lengthAdjust="spacingAndGlyphs" fill="#222">%</text>
<text x="16.03" y="142.80" font-family="Liberation Sans" font-size="13.4" textLength="17.89" lengthAdjust="spacingAndGlyphs" fill="#333">100</text>
<text x="22.35" y="196.66" font-family="Liberation Sans" font-size="13.4" textLength="11.92" lengthAdjust="spacingAndGlyphs" fill="#333">80</text>
<text x="22.53" y="223.59" font-family="Liberation Sans" font-size="13.4" textLength="11.92" lengthAdjust="spacingAndGlyphs" fill="#333">70</text>
<text x="22.71" y="250.52" font-family="Liberation Sans" font-size="13.4" textLength="11.92" lengthAdjust="spacingAndGlyphs" fill="#333">60</text>
<text x="22.89" y="277.45" font-family="Liberation Sans" font-size="13.4" textLength="11.92" lengthAdjust="spacingAndGlyphs" fill="#333">50</text>
<text x="23.07" y="304.38" font-family="Liberation Sans" font-size="13.4" textLength="11.92" lengthAdjust="spacingAndGlyphs" fill="#333">40</text>
<text x="23.25" y="331.31" font-family="Liberation Sans" font-size="13.4" textLength="11.92" lengthAdjust="spacingAndGlyphs" fill="#333">30</text>
<text x="23.43" y="358.24" font-family="Liberation Sans" font-size="13.4" textLength="11.92" lengthAdjust="spacingAndGlyphs" fill="#333">20</text>
<text x="23.61" y="385.17" font-family="Liberation Sans" font-size="13.4" textLength="11.92" lengthAdjust="spacingAndGlyphs" fill="#333">10</text>
<text x="29.76" y="412.10" font-family="Liberation Sans" font-size="13.4" textLength="5.96" lengthAdjust="spacingAndGlyphs" fill="#333">0</text>
<text x="21.73" y="162.50" font-family="Liberation Sans" font-size="13.8" textLength="14.24" lengthAdjust="spacingAndGlyphs" fill="#262626">%</text>
<text x="43.52" y="424.20" font-family="Liberation Sans" font-size="13.4" textLength="5.96" lengthAdjust="spacingAndGlyphs" fill="#333">0</text>
<text x="84.82" y="424.20" font-family="Liberation Sans" font-size="13.4" textLength="5.96" lengthAdjust="spacingAndGlyphs" fill="#333">2</text>
<text x="126.35" y="424.20" font-family="Liberation Sans" font-size="13.4" textLength="5.96" lengthAdjust="spacingAndGlyphs" fill="#333">4</text>
<text x="168.28" y="424.20" font-family="Liberation Sans" font-size="13.4" textLength="5.96" lengthAdjust="spacingAndGlyphs" fill="#333">6</text>
<text x="209.72" y="424.20" font-family="Liberation Sans" font-size="13.4" textLength="5.96" lengthAdjust="spacingAndGlyphs" fill="#333">8</text>
<text x="233.92" y="424.20" font-family="Liberation Sans" font-size="13.4" textLength="7.15" lengthAdjust="spacingAndGlyphs" fill="#333">V</text>
<text x="249.14" y="424.20" font-family="Liberation Sans" font-size="13.4" textLength="11.92" lengthAdjust="spacingAndGlyphs" fill="#333">10</text>
<text x="267.62" y="423.60" font-family="Liberation Sans" font-size="13.4" textLength="5.96" lengthAdjust="spacingAndGlyphs" fill="#333">0</text>
<text x="321.62" y="423.60" font-family="Liberation Sans" font-size="13.4" textLength="5.96" lengthAdjust="spacingAndGlyphs" fill="#333">2</text>
<text x="374.15" y="423.60" font-family="Liberation Sans" font-size="13.4" textLength="5.96" lengthAdjust="spacingAndGlyphs" fill="#333">4</text>
<text x="428.58" y="423.60" font-family="Liberation Sans" font-size="13.4" textLength="5.96" lengthAdjust="spacingAndGlyphs" fill="#333">6</text>
<text x="479.42" y="423.60" font-family="Liberation Sans" font-size="13.4" textLength="5.96" lengthAdjust="spacingAndGlyphs" fill="#333">8</text>
<text x="511.82" y="423.60" font-family="Liberation Sans" font-size="13.4" textLength="7.15" lengthAdjust="spacingAndGlyphs" fill="#333">V</text>
<text x="528.64" y="423.60" font-family="Liberation Sans" font-size="13.4" textLength="11.92" lengthAdjust="spacingAndGlyphs" fill="#333">10</text>
<text x="237.45" y="398.80" font-family="Liberation Serif" font-size="18" font-weight="bold" textLength="10.05" lengthAdjust="spacingAndGlyphs" fill="#111">a</text>
<text x="514.16" y="397.60" font-family="Liberation Serif" font-size="17.5" font-weight="bold" textLength="10.51" lengthAdjust="spacingAndGlyphs" fill="#111">b</text>
<text x="129.49" y="392.00" font-family="Liberation Sans" font-size="13.5" font-style="italic" textLength="6.49" lengthAdjust="spacingAndGlyphs" fill="#222">p</text>
<text x="135.46" y="394.00" font-family="Liberation Sans" font-size="10.5" textLength="13.17" lengthAdjust="spacingAndGlyphs" fill="#333">min</text>
<text x="149.49" y="392.50" font-family="Liberation Sans" font-size="13.5" font-style="italic" textLength="2.91" lengthAdjust="spacingAndGlyphs" fill="#222">/</text>
<text x="154.69" y="392.00" font-family="Liberation Sans" font-size="13.5" font-style="italic" textLength="6.38" lengthAdjust="spacingAndGlyphs" fill="#222">p</text>
<text x="160.98" y="394.00" font-family="Liberation Sans" font-size="10.5" textLength="14.70" lengthAdjust="spacingAndGlyphs" fill="#333">max</text>
<text x="355.29" y="389.60" font-family="Liberation Sans" font-size="13.5" font-style="italic" textLength="6.49" lengthAdjust="spacingAndGlyphs" fill="#222">p</text>
<text x="361.26" y="391.60" font-family="Liberation Sans" font-size="10.5" textLength="13.17" lengthAdjust="spacingAndGlyphs" fill="#333">min</text>
<text x="375.29" y="390.10" font-family="Liberation Sans" font-size="13.5" font-style="italic" textLength="2.91" lengthAdjust="spacingAndGlyphs" fill="#222">/</text>
<text x="380.49" y="389.60" font-family="Liberation Sans" font-size="13.5" font-style="italic" textLength="6.38" lengthAdjust="spacingAndGlyphs" fill="#222">p</text>
<text x="386.78" y="391.60" font-family="Liberation Sans" font-size="10.5" textLength="14.70" lengthAdjust="spacingAndGlyphs" fill="#333">max</text>
<text x="51.04" y="365.70" font-family="Liberation Sans" font-size="13.5" font-style="italic" textLength="9.30" lengthAdjust="spacingAndGlyphs" fill="#222">U</text>
<text x="60.57" y="367.70" font-family="Liberation Sans" font-size="9.5" textLength="2.39" lengthAdjust="spacingAndGlyphs" fill="#333">t</text>
<text x="173.68" y="275.60" font-family="Liberation Sans" font-size="13.0" font-style="italic" textLength="7.51" lengthAdjust="spacingAndGlyphs" fill="#333">H</text>
<text x="71.56" y="444.40" font-family="Liberation Sans" font-size="13.4" textLength="117.18" lengthAdjust="spacingAndGlyphs" fill="#222">Eing.sign. elektr. Spanng.</text>
<text x="189.09" y="443.60" font-family="Liberation Sans" font-size="13.4" font-style="italic" textLength="4.92" lengthAdjust="spacingAndGlyphs" fill="#222">x</text>
<text x="194.87" y="446.60" font-family="Liberation Sans" font-size="9.5" textLength="4.39" lengthAdjust="spacingAndGlyphs" fill="#333">e</text>
<text x="199.24" y="443.00" font-family="Liberation Sans" font-size="13.4" textLength="6.73" lengthAdjust="spacingAndGlyphs" fill="#222">=</text>
<text x="205.56" y="443.60" font-family="Liberation Sans" font-size="13.4" font-style="italic" textLength="7.20" lengthAdjust="spacingAndGlyphs" fill="#222">U</text>
<text x="212.63" y="446.60" font-family="Liberation Sans" font-size="9.5" textLength="3.56" lengthAdjust="spacingAndGlyphs" fill="#333">e</text>
<line x1="217.40" y1="438.40" x2="228.00" y2="438.40" stroke="#111" stroke-width="1.4"/>
<path d="M235.9,438.4 L225.2,435.9 L225.2,440.9 Z" fill="#111" stroke="none" stroke-width="1.0"/>
<text x="313.50" y="443.50" font-family="Liberation Sans" font-size="13.4" textLength="134.59" lengthAdjust="spacingAndGlyphs" fill="#222">Eingangssignal elektr. Spanng.</text>
<text x="452.29" y="442.80" font-family="Liberation Sans" font-size="13.4" font-style="italic" textLength="4.83" lengthAdjust="spacingAndGlyphs" fill="#222">x</text>
<text x="457.97" y="445.80" font-family="Liberation Sans" font-size="9.5" textLength="4.39" lengthAdjust="spacingAndGlyphs" fill="#333">e</text>
<text x="461.53" y="442.40" font-family="Liberation Sans" font-size="13.4" textLength="5.65" lengthAdjust="spacingAndGlyphs" fill="#222">=</text>
<text x="466.87" y="442.80" font-family="Liberation Sans" font-size="13.4" font-style="italic" textLength="7.09" lengthAdjust="spacingAndGlyphs" fill="#222">U</text>
<text x="473.66" y="445.80" font-family="Liberation Sans" font-size="9.5" textLength="4.50" lengthAdjust="spacingAndGlyphs" fill="#333">e</text>
<line x1="478.70" y1="438.30" x2="488.00" y2="438.30" stroke="#111" stroke-width="1.4"/>
<path d="M496.3,438.3 L485.6,435.8 L485.6,440.8 Z" fill="#111" stroke="none" stroke-width="1.0"/>
<g transform="translate(13.9,0) rotate(-90)">
<text x="-349.34" y="0.00" font-family="Liberation Sans" font-size="13.6" textLength="39.42" lengthAdjust="spacingAndGlyphs" fill="#222">relativer</text>
<text x="-306.68" y="0.00" font-family="Liberation Sans" font-size="13.6" textLength="31.06" lengthAdjust="spacingAndGlyphs" fill="#222">Druck</text>
<text x="-266.21" y="0.00" font-family="Liberation Sans" font-size="13.5" font-style="italic" textLength="8.71" lengthAdjust="spacingAndGlyphs" fill="#222">p</text>
<text x="-255.88" y="0.00" font-family="Liberation Sans" font-size="13.5" font-style="italic" textLength="4.49" lengthAdjust="spacingAndGlyphs" fill="#222">/</text>
<text x="-252.68" y="0.00" font-family="Liberation Sans" font-size="13.5" font-style="italic" textLength="9.32" lengthAdjust="spacingAndGlyphs" fill="#222">p</text>
<text x="-243.84" y="1.00" font-family="Liberation Sans" font-size="10.5" textLength="15.33" lengthAdjust="spacingAndGlyphs" fill="#333">max</text>
</g>
<line x1="6.40" y1="218.20" x2="6.40" y2="198.00" stroke="#111" stroke-width="1.3"/>
<path d="M6.4,190.0 L3.3,201.0 L9.5,201.0 Z" fill="#111" stroke="none" stroke-width="1.0"/>
</svg>
</body></html>
